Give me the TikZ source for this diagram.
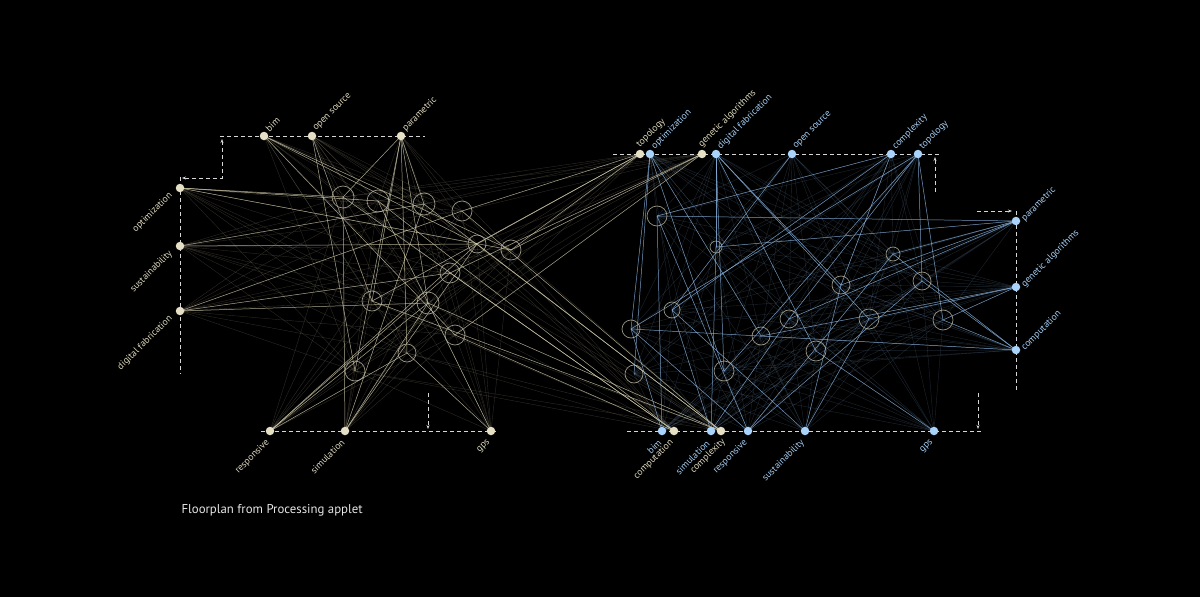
\documentclass[tikz,border=0pt]{standalone}
\usepackage{fontspec}
\setmainfont{PT Sans}
\usetikzlibrary{arrows.meta}
\definecolor{beige}{HTML}{E5E0C5}
\definecolor{beigetxt}{HTML}{DAD5BB}
\definecolor{beigeline}{HTML}{D9D3B2}
\definecolor{skyblue}{HTML}{A9D3FA}
\definecolor{bluetxt}{HTML}{A3CBF0}
\definecolor{blueline}{HTML}{8DB9E6}
\definecolor{ring}{HTML}{BDB9A6}
\definecolor{guide}{HTML}{D6D6D6}
\definecolor{capt}{HTML}{E6E6E6}
\newcommand\tagfont{\fontsize{9.6}{11}\selectfont}
\pgfdeclarelayer{bg}
\pgfsetlayers{bg,main}

\begin{document}
\begin{tikzpicture}[x=1pt,y=-1pt,
    tagB/.style={circle,fill=beige,inner sep=0pt,minimum size=8.5pt},
    tagU/.style={circle,fill=skyblue,inner sep=0pt,minimum size=8.5pt},
    lt/.style={rotate=45,anchor=west,font=\tagfont,inner sep=0pt},
    lb/.style={rotate=45,anchor=east,font=\tagfont,inner sep=0pt},
    cell/.style={circle,draw=ring,draw opacity=.8,line width=.7pt,inner sep=0pt},
    guide/.style={draw=guide,line width=.8pt,dash pattern=on 4pt off 3pt},
    linkB/.style={draw=beigeline,line width=.5pt},
    linkU/.style={draw=blueline,line width=.5pt}]
  \useasboundingbox (0,0) rectangle (1200,597);
  % floorplan cells
  \foreach \n/\x/\y/\r in {1/343/197/11,2/378/201/11,3/424/204/11,4/462/211/10,5/477/244/9,6/511/250/10,
      7/450/273/10,8/372/301/10,9/428/303/11,10/455/335/10,11/407/353/9,12/355/371/10}
    \node[cell,minimum size=2*\r pt] (L\n) at (\x,\y) {};
  \foreach \n/\x/\y/\r in {1/657/216/10,2/716/247/6,3/672/310/8,4/631/329/9,5/634/374/9,6/724/371/10,7/761/336/9,
      8/789/319/9,9/841/285/9,10/893/254/7,11/922/281/9,12/869/319/10,13/943/320/10,14/816/351/10}
    \node[cell,minimum size=2*\r pt] (R\n) at (\x,\y) {};
  % tags
  \foreach \t/\x/\y in {bim/264/136,opensrc/312/136,param/401/136,optim/180/188,sustain/180/246,digfab/180/311,
      respons/270/431,simul/345/431,gps/491/431,topoB/640/154,genalgB/702/154,compB/674/431,complexB/721/431}
    \node[tagB] (\t) at (\x,\y) {};
  \foreach \t/\x/\y in {optimR/650/154,digfabR/716/154,opensrcR/792/154,complexR/891/154,topoR/918/154,paramR/1016/221,
      genalgR/1016/287,computR/1016/350,bimR/662/431,simulR/711/431,responsR/748/431,sustainR/805/431,gpsR/934/431}
    \node[tagU] (\t) at (\x,\y) {};
  % tag names
  \foreach \t/\s in {bim/bim,opensrc/open source,param/parametric}
    \node[lt,text=beigetxt] (\t-name) at ([shift={(3,-6)}]\t.center) {\s};
  \foreach \t/\s in {topoB/topology,genalgB/genetic algorithms}
    \node[lt,text=beigetxt] (\t-name) at ([shift={(-2,-8)}]\t.center) {\s};
  \foreach \t/\s in {optim/optimization,sustain/sustainability,digfab/digital fabrication}
    \node[lb,text=beigetxt] (\t-name) at ([shift={(-9,6)}]\t.center) {\s};
  \foreach \t/\s in {respons/responsive,simul/simulation,gps/gps,compB/computation}
    \node[lb,text=beigetxt] (\t-name) at ([shift={(-2,10)}]\t.center) {\s};
  \node[lb,text=beigetxt] (complexB-name) at ([shift={(3,9)}]complexB.center) {complexity};
  \foreach \t/\s in {optimR/optimization,digfabR/digital fabrication,opensrcR/open source,complexR/complexity,topoR/topology}
    \node[lt,text=bluetxt] (\t-name) at ([shift={(3,-6)}]\t.center) {\s};
  \foreach \t/\s in {paramR/parametric,genalgR/genetic algorithms,computR/computation}
    \node[lt,text=bluetxt] (\t-name) at ([shift={(7,-1)}]\t.center) {\s};
  \foreach \t/\s in {bimR/bim,responsR/responsive,sustainR/sustainability,gpsR/gps}
    \node[lb,text=bluetxt] (\t-name) at ([shift={(-2,10)}]\t.center) {\s};
  \node[lb,text=bluetxt] (simulR-name) at ([shift={(-3,11)}]simulR.center) {simulation};
  \node[anchor=base west,font=\fontsize{12.8}{15}\selectfont,text=capt] (caption) at (178,513) {Floorplan from Processing applet};
  \begin{pgfonlayer}{bg}
    \fill[black] (0,0) rectangle (1200,597);
    \foreach \t in {bim,opensrc,param,optim,sustain,digfab,respons,simul,gps,topoB,genalgB,compB,complexB}
      \foreach \i in {1,...,12}
        \draw[linkB,draw opacity=.2,line width=.4pt] (\t.center) -- (L\i.center);
    \foreach \t in {optimR,digfabR,opensrcR,complexR,topoR,paramR,genalgR,computR,bimR,simulR,responsR,sustainR,gpsR}
      \foreach \i in {1,...,14}
        \draw[linkU,draw opacity=.2,line width=.4pt] (\t.center) -- (R\i.center);
    \foreach \t/\c in {optim/1,optim/2,optim/6,sustain/5,sustain/3,digfab/9,digfab/4,digfab/7,bim/5,bim/6,bim/10,
        opensrc/8,opensrc/12,param/1,param/3,param/8,param/12,param/9,param/11,respons/9,respons/7,respons/5,respons/11,
        simul/1,simul/3,simul/5,simul/9,gps/11,gps/2,topoB/4,topoB/6,topoB/5,topoB/8,genalgB/6,genalgB/10,genalgB/7,
        compB/1,compB/2,compB/7,compB/10,complexB/3,complexB/4,complexB/5,complexB/9,complexB/8}
      \draw[linkB,draw opacity=.7] (\t.center) -- (L\c.center);
    \foreach \t/\c in {optimR/4,optimR/5,optimR/6,optimR/7,digfabR/2,digfabR/6,digfabR/9,digfabR/12,digfabR/14,opensrcR/3,
        complexR/1,complexR/3,complexR/9,topoR/4,topoR/8,topoR/11,topoR/13,topoR/6,paramR/1,paramR/2,paramR/8,paramR/9,
        paramR/10,genalgR/12,genalgR/13,genalgR/7,computR/4,computR/11,computR/13,computR/10,bimR/1,bimR/4,simulR/2,
        simulR/3,simulR/8,responsR/4,responsR/1,responsR/10,responsR/11,sustainR/3,sustainR/9,sustainR/12,gpsR/14}
      \draw[linkU,draw opacity=.75] (\t.center) -- (R\c.center);
    % guides
    \draw[guide] (220,136) -- (425,136);
    \draw[guide] (180,177) -- (180,374);
    \draw[guide] (261,431) -- (497,431);
    \draw[guide] (613,154) -- (940,154);
    \draw[guide] (1016,211) -- (1016,392);
    \draw[guide] (627,431) -- (982,431);
    \draw[guide,{Stealth[length=4pt,width=3pt]}-{Stealth[length=4pt,width=3pt]}] (222,139) |- (182,178);
    \draw[guide,-{Stealth[length=4pt,width=3pt]}] (428,393) -- (428,429);
    \draw[guide,-{Stealth[length=4pt,width=3pt]}] (935,192) -- (935,157);
    \draw[guide,-{Stealth[length=4pt,width=3pt]}] (977,211) -- (1012,211);
    \draw[guide,-{Stealth[length=4pt,width=3pt]}] (978,393) -- (978,429);
  \end{pgfonlayer}
\end{tikzpicture}
\end{document}
